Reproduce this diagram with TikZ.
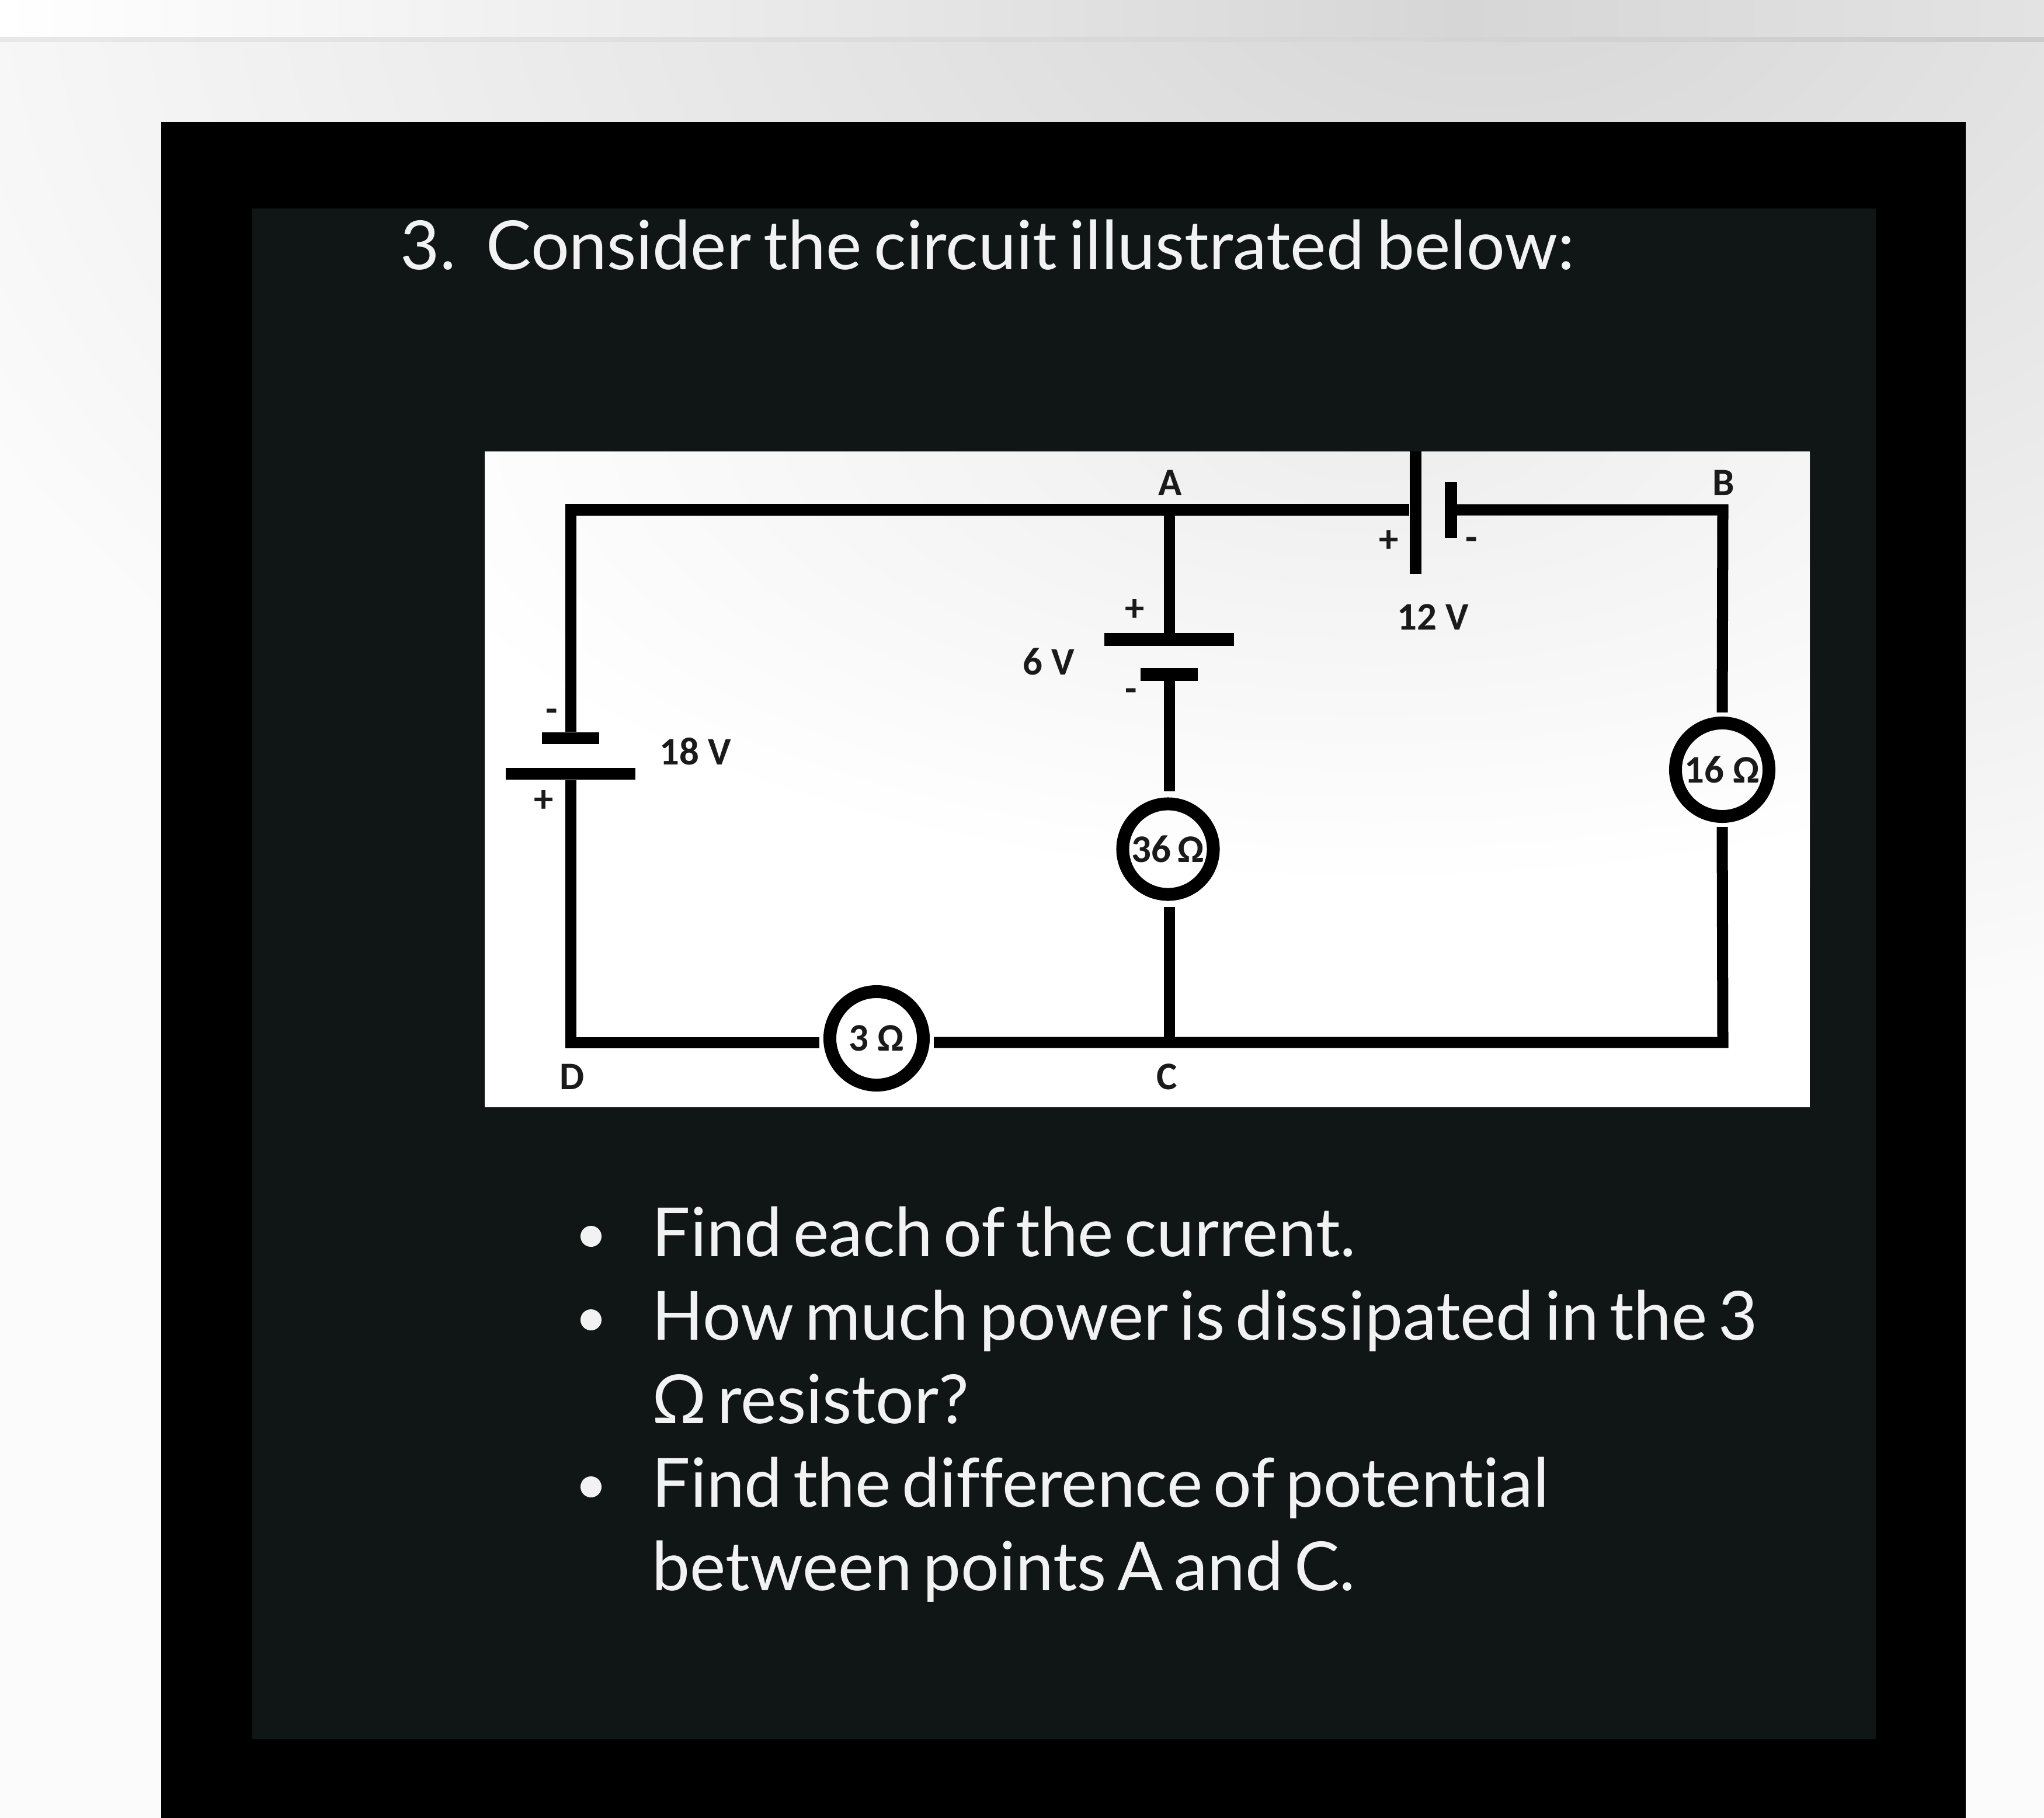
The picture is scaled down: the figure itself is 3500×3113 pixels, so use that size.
\documentclass[tikz,border=0pt]{standalone}
\usepackage{fontspec}
\setmainfont[WordSpace=0.72,Ligatures=NoCommon]{Lato}
\newfontfamily\listfont[WordSpace=0.62,Ligatures=NoCommon]{Lato}
\newfontfamily\labelfont{Carlito}
\usepackage{xcolor}
\definecolor{pagewhite}{HTML}{FBFBFB}
\definecolor{sheengray}{HTML}{D6D6D6}
\definecolor{panelgray}{HTML}{0F1615}
\definecolor{inkwhite}{HTML}{F2F2F2}
\definecolor{inkblack}{HTML}{1A1A1A}

\begin{document}
\begin{tikzpicture}[x=0.01cm,y=-0.01cm]
    \tikzstyle{wire}=[line width=0.19cm,black]
    \tikzstyle{plate}=[rectangle,fill=black,inner sep=0pt]
    \tikzstyle{ring}=[circle,draw=black,line width=0.22cm,inner sep=0pt,minimum size=1.6cm,outer sep=0.18cm,text=inkblack,font=\labelfont\bfseries\fontsize{19}{19}\selectfont]
    \tikzstyle{tag}=[inner sep=0pt,text=inkblack,font=\labelfont\bfseries\fontsize{19}{19}\selectfont]
    \tikzstyle{body}=[inner sep=0pt,anchor=base west,text=inkwhite,font=\fontsize{33}{40}\selectfont]
    \tikzstyle{listline}=[body,font=\listfont\fontsize{33}{40}\selectfont]
    \tikzstyle{dotmark}=[circle,fill=inkwhite,inner sep=0pt,minimum size=0.36cm]

    \useasboundingbox (0,0) rectangle (3500,3113);

    % Page background
    \fill[pagewhite] (0,0) rectangle (3500,3113);
    \begin{scope}
        \clip (0,0) rectangle (3500,3113);
        \fill[inner color=sheengray,outer color=pagewhite] (-350,-2000) rectangle (5450,1800);
    \end{scope}
    \shade[left color=white,right color=sheengray] (0,0) rectangle (2500,64);
    \shade[left color=sheengray,right color=gray!22] (2500,0) rectangle (3500,64);
    \shade[left color=gray!18,right color=gray!40] (0,64) rectangle (3500,72);

    % Dark panels
    \fill[black] (276,209) rectangle (3366,3113);
    \fill[panelgray] (432,357) rectangle (3212,2978);

    % Circuit image
    \fill[white] (830,774) rectangle (3099,1896);
    \begin{scope}
        \clip (830,774) rectangle (3099,1896);
        \fill[inner color=gray!14,outer color=white] (600,-80) rectangle (4100,1520);
    \end{scope}

    % Title
    \node (num)[body] at (685,462) {3.};
    \node (title)[body] at (832,462) {Consider the circuit illustrated below:};

    % Corners and junctions
    \coordinate (topleft) at (977,873);
    \coordinate (topright) at (2950,873);
    \coordinate (botleft) at (977,1785);
    \coordinate (botright) at (2950,1785);
    \coordinate (nodeA) at (2002,873);
    \coordinate (nodeC) at (2002,1785);

    % Batteries
    \node (neg18)[plate,minimum width=0.98cm,minimum height=0.2cm] at (977,1264) {};
    \node (pos18)[plate,minimum width=2.21cm,minimum height=0.2cm] at (977,1325) {};
    \node (pos6)[plate,minimum width=2.22cm,minimum height=0.21cm] at (2002,1095) {};
    \node (neg6)[plate,minimum width=0.97cm,minimum height=0.21cm] at (2002,1155) {};
    \node (pos12)[plate,minimum width=0.2cm,minimum height=2.09cm] at (2424,878) {};
    \node (neg12)[plate,minimum width=0.21cm,minimum height=0.96cm] at (2484,873) {};

    % Resistors
    \node (r3)[ring] at (1501,1778) {3 Ω};
    \node (r36)[ring,minimum size=1.55cm,outer sep=0.21cm] at (2000,1454) {36\,Ω};
    \node (r16)[ring] at (2949,1318) {16 Ω};

    % Wires
    \draw[wire] (neg18.north) -- (topleft) -- (pos12.west |- topleft);
    \draw[wire] (pos18.south) -- (botleft) -- (r3.west |- botleft);
    \draw[wire] (r3.east |- botright) -- (botright) -- (r16.south);
    \draw[wire] (neg12.east) -- (topright) -- (r16.north);
    \draw[wire] (nodeA) -- (pos6.north);
    \draw[wire] (neg6.south) -- (nodeA |- r36.north);
    \draw[wire] (nodeC |- r36.south) -- (nodeC);

    % Labels
    \node (lblA)[tag] at (2004,827) {A};
    \node (lblB)[tag] at (2951,827) {B};
    \node (lblC)[tag] at (1998,1844) {C};
    \node (lblD)[tag] at (980,1844) {D};
    \node (lbl18)[tag] at (1191,1287) {18 V};
    \node (lbl6)[tag] at (1796,1133) {6 V};
    \node (lbl12)[tag] at (2454,1057) {12 V};
    \node (plus18)[tag] at (931,1372) {+};
    \node (minus18)[tag] at (945,1225) {-};
    \node (plus6)[tag] at (1943,1045) {+};
    \node (minus6)[tag] at (1937,1190) {-};
    \node (plus12)[tag] at (2378,927) {+};
    \node (minus12)[tag] at (2520,931) {-};

    % Question list
    \node (dot1)[dotmark] at (1012,2117) {};
    \node (dot2)[dotmark] at (1012,2260) {};
    \node (dot3)[dotmark] at (1012,2546) {};
    \node (line1)[listline] at (1116,2151) {Find each of the current.};
    \node (line2)[listline] at (1116,2294) {How much power is dissipated in the 3};
    \node (line3)[listline] at (1116,2437) {Ω resistor?};
    \node (line4)[listline] at (1116,2580) {Find the difference of potential};
    \node (line5)[listline] at (1116,2723) {between points A and C.};
\end{tikzpicture}
\end{document}
